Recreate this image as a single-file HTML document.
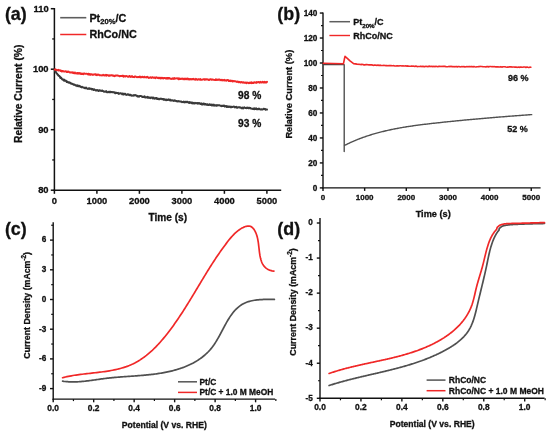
<!DOCTYPE html>
<html><head><meta charset="utf-8"><style>
html,body{margin:0;padding:0;background:#fff;}
svg{display:block;font-family:"Liberation Sans", Arial, sans-serif;font-weight:bold;fill:#111;}
text{stroke:#111;stroke-width:0.3px;}
</style></head><body>
<svg style="filter:blur(0.4px)" width="550" height="431" viewBox="0 0 550 431">
<rect width="550" height="431" fill="#fff"/>
<line x1="54.40" y1="8.00" x2="54.40" y2="190.90" stroke="#111" stroke-width="1.5"/>
<line x1="53.70" y1="190.20" x2="281.20" y2="190.20" stroke="#111" stroke-width="1.5"/>
<line x1="50.80" y1="8.70" x2="54.40" y2="8.70" stroke="#111" stroke-width="1.5"/>
<text x="48.60" y="11.50" font-size="9.4" text-anchor="end" >110</text>
<line x1="50.80" y1="69.20" x2="54.40" y2="69.20" stroke="#111" stroke-width="1.5"/>
<text x="48.60" y="72.00" font-size="9.4" text-anchor="end" >100</text>
<line x1="50.80" y1="129.70" x2="54.40" y2="129.70" stroke="#111" stroke-width="1.5"/>
<text x="48.60" y="132.50" font-size="9.4" text-anchor="end" >90</text>
<line x1="50.80" y1="190.20" x2="54.40" y2="190.20" stroke="#111" stroke-width="1.5"/>
<text x="48.60" y="193.00" font-size="9.4" text-anchor="end" >80</text>
<line x1="52.20" y1="38.95" x2="54.40" y2="38.95" stroke="#111" stroke-width="1.3"/>
<line x1="52.20" y1="99.45" x2="54.40" y2="99.45" stroke="#111" stroke-width="1.3"/>
<line x1="52.20" y1="159.95" x2="54.40" y2="159.95" stroke="#111" stroke-width="1.3"/>
<line x1="54.40" y1="190.20" x2="54.40" y2="193.80" stroke="#111" stroke-width="1.5"/>
<text x="54.40" y="204.00" font-size="9.4" text-anchor="middle" >0</text>
<line x1="96.90" y1="190.20" x2="96.90" y2="193.80" stroke="#111" stroke-width="1.5"/>
<text x="96.90" y="204.00" font-size="9.4" text-anchor="middle" >1000</text>
<line x1="139.40" y1="190.20" x2="139.40" y2="193.80" stroke="#111" stroke-width="1.5"/>
<text x="139.40" y="204.00" font-size="9.4" text-anchor="middle" >2000</text>
<line x1="181.90" y1="190.20" x2="181.90" y2="193.80" stroke="#111" stroke-width="1.5"/>
<text x="181.90" y="204.00" font-size="9.4" text-anchor="middle" >3000</text>
<line x1="224.40" y1="190.20" x2="224.40" y2="193.80" stroke="#111" stroke-width="1.5"/>
<text x="224.40" y="204.00" font-size="9.4" text-anchor="middle" >4000</text>
<line x1="266.90" y1="190.20" x2="266.90" y2="193.80" stroke="#111" stroke-width="1.5"/>
<text x="266.90" y="204.00" font-size="9.4" text-anchor="middle" >5000</text>
<text x="167.80" y="221.20" font-size="10.1" text-anchor="middle" >Time (s)</text>
<text x="0.00" y="0.00" font-size="10.3" text-anchor="middle" transform="translate(21.7,93.8) rotate(-90)">Relative Current (%)</text>
<line x1="60.20" y1="17.70" x2="86.30" y2="17.70" stroke="#5e5e5e" stroke-width="1.6"/>
<line x1="60.20" y1="34.50" x2="86.30" y2="34.50" stroke="#f02828" stroke-width="1.5"/>
<text x="89.4" y="21.5" font-size="10.8">Pt<tspan font-size="7.6" dy="2.6">20%</tspan><tspan dy="-2.6">/C</tspan></text>
<text x="89.40" y="37.80" font-size="10.8" text-anchor="start" >RhCo/NC</text>
<text x="238.00" y="98.60" font-size="10.2" text-anchor="start" >98 %</text>
<text x="238.00" y="127.20" font-size="10.2" text-anchor="start" >93 %</text>
<text x="4.90" y="20.40" font-size="17.9" text-anchor="start" >(a)</text>
<path d="M54.59,69.61 L55.04,70.35 L55.49,71.73 L55.94,71.86 L56.39,73.06 L56.84,73.52 L57.29,73.78 L57.74,74.83 L58.19,74.83 L58.64,75.76 L59.09,75.82 L59.54,76.28 L59.99,77.07 L60.44,77.90 L60.89,77.51 L61.34,77.98 L61.79,78.76 L62.24,79.44 L62.69,79.35 L63.14,79.46 L63.59,80.38 L64.04,79.64 L64.49,80.80 L64.94,80.44 L65.39,80.53 L65.84,80.74 L66.29,81.18 L66.74,81.97 L67.19,81.49 L67.64,82.15 L68.09,82.42 L68.54,82.33 L68.99,82.72 L69.44,82.38 L69.89,82.56 L70.34,82.90 L70.79,83.60 L71.24,83.50 L71.69,83.55 L72.14,84.02 L72.59,84.04 L73.04,84.03 L73.49,84.73 L73.94,84.79 L74.39,84.44 L74.84,84.96 L75.29,85.05 L75.74,85.59 L76.19,85.57 L76.64,85.23 L77.09,86.13 L77.54,85.32 L77.99,85.79 L78.44,86.30 L78.89,85.77 L79.34,86.27 L79.79,85.90 L80.24,86.72 L80.69,86.95 L81.14,86.87 L81.59,87.32 L82.04,86.82 L82.49,87.36 L82.94,87.37 L83.39,87.47 L83.84,87.44 L84.29,87.98 L84.74,88.20 L85.19,87.79 L85.64,88.11 L86.09,87.55 L86.54,88.36 L86.99,88.40 L87.44,88.89 L87.89,88.80 L88.34,88.30 L88.79,88.51 L89.24,88.92 L89.69,88.30 L90.14,88.88 L90.59,88.65 L91.04,88.68 L91.49,88.71 L91.94,89.58 L92.39,88.96 L92.84,89.18 L93.29,89.42 L93.74,90.04 L94.19,89.25 L94.64,89.74 L95.09,89.93 L95.54,90.38 L95.99,90.39 L96.44,90.51 L96.89,89.95 L97.34,90.17 L97.79,90.19 L98.24,90.84 L98.69,91.00 L99.14,90.18 L99.59,90.29 L100.04,90.42 L100.49,90.49 L100.94,90.84 L101.39,91.02 L101.84,90.74 L102.29,90.52 L102.74,91.05 L103.19,91.06 L103.64,91.34 L104.09,91.84 L104.54,91.61 L104.99,91.49 L105.44,91.67 L105.89,91.79 L106.34,91.18 L106.79,92.17 L107.24,92.10 L107.69,92.27 L108.14,92.25 L108.59,91.87 L109.04,91.94 L109.49,91.68 L109.94,92.32 L110.39,91.75 L110.84,91.82 L111.29,92.04 L111.74,92.05 L112.19,92.31 L112.64,92.05 L113.09,92.06 L113.54,92.29 L113.99,92.29 L114.44,92.64 L114.89,92.33 L115.34,93.33 L115.79,93.10 L116.24,92.65 L116.69,92.83 L117.14,92.99 L117.59,93.07 L118.04,92.87 L118.49,93.73 L118.94,93.95 L119.39,93.43 L119.84,93.51 L120.29,93.13 L120.74,93.21 L121.19,93.54 L121.64,93.52 L122.09,94.20 L122.54,93.52 L122.99,93.43 L123.44,94.52 L123.89,94.11 L124.34,93.75 L124.79,94.25 L125.24,93.74 L125.69,94.36 L126.14,94.91 L126.59,94.85 L127.04,94.72 L127.49,94.31 L127.94,94.48 L128.39,94.33 L128.84,95.05 L129.29,94.85 L129.74,95.18 L130.19,94.75 L130.64,94.69 L131.09,95.40 L131.54,95.65 L131.99,95.57 L132.44,95.58 L132.89,95.65 L133.34,95.63 L133.79,95.12 L134.24,95.50 L134.69,95.39 L135.14,95.09 L135.59,95.15 L136.04,95.48 L136.49,95.52 L136.94,96.06 L137.39,96.41 L137.84,95.91 L138.29,96.51 L138.74,96.63 L139.19,96.65 L139.64,96.06 L140.09,95.96 L140.54,96.03 L140.99,96.06 L141.44,96.13 L141.89,96.65 L142.34,97.01 L142.79,97.01 L143.24,96.67 L143.69,96.92 L144.14,97.14 L144.59,96.41 L145.04,97.11 L145.49,97.44 L145.94,97.36 L146.39,97.38 L146.84,97.14 L147.29,96.87 L147.74,97.61 L148.19,97.16 L148.64,97.74 L149.09,97.99 L149.54,97.41 L149.99,97.48 L150.44,98.14 L150.89,97.95 L151.34,97.40 L151.79,97.41 L152.24,97.50 L152.69,98.39 L153.14,98.34 L153.59,97.67 L154.04,98.48 L154.49,98.70 L154.94,98.41 L155.39,98.13 L155.84,98.40 L156.29,98.00 L156.74,97.93 L157.19,99.04 L157.64,98.75 L158.09,98.67 L158.54,99.18 L158.99,98.69 L159.44,99.23 L159.89,99.23 L160.34,98.62 L160.79,98.72 L161.24,98.82 L161.69,98.82 L162.14,99.26 L162.59,98.96 L163.04,99.19 L163.49,98.93 L163.94,99.85 L164.39,99.29 L164.84,99.46 L165.29,99.66 L165.74,100.07 L166.19,99.59 L166.64,100.20 L167.09,99.80 L167.54,99.89 L167.99,99.93 L168.44,99.43 L168.89,99.95 L169.34,99.73 L169.79,99.59 L170.24,100.52 L170.69,99.89 L171.14,100.27 L171.59,100.61 L172.04,100.48 L172.49,100.28 L172.94,100.55 L173.39,100.64 L173.84,100.95 L174.29,100.26 L174.74,100.82 L175.19,100.53 L175.64,100.61 L176.09,101.21 L176.54,100.98 L176.99,101.09 L177.44,101.37 L177.89,101.59 L178.34,101.13 L178.79,101.37 L179.24,101.31 L179.69,101.37 L180.14,101.62 L180.59,101.41 L181.04,101.55 L181.49,101.55 L181.94,102.11 L182.39,101.90 L182.84,102.15 L183.29,102.27 L183.74,101.58 L184.19,101.96 L184.64,102.43 L185.09,102.37 L185.54,101.65 L185.99,101.69 L186.44,102.10 L186.89,101.74 L187.34,101.98 L187.79,101.85 L188.24,102.56 L188.69,102.74 L189.14,102.91 L189.59,102.15 L190.04,102.82 L190.49,102.81 L190.94,102.29 L191.39,103.16 L191.84,103.30 L192.29,102.53 L192.74,103.39 L193.19,102.83 L193.64,102.98 L194.09,103.59 L194.54,103.46 L194.99,102.78 L195.44,103.12 L195.89,103.27 L196.34,103.12 L196.79,103.02 L197.24,103.20 L197.69,103.70 L198.14,102.97 L198.59,103.61 L199.04,103.54 L199.49,103.12 L199.94,103.52 L200.39,103.89 L200.84,103.82 L201.29,103.37 L201.74,104.43 L202.19,104.27 L202.64,104.52 L203.09,103.61 L203.54,103.84 L203.99,103.64 L204.44,104.50 L204.89,103.99 L205.34,103.88 L205.79,104.25 L206.24,104.84 L206.69,104.79 L207.14,104.22 L207.59,104.14 L208.04,105.04 L208.49,104.70 L208.94,104.89 L209.39,104.27 L209.84,104.28 L210.29,105.02 L210.74,104.78 L211.19,104.44 L211.64,105.43 L212.09,105.15 L212.54,105.38 L212.99,104.63 L213.44,105.53 L213.89,104.71 L214.34,105.63 L214.79,105.22 L215.24,105.14 L215.69,105.42 L216.14,105.88 L216.59,105.20 L217.04,105.09 L217.49,105.57 L217.94,105.30 L218.39,105.20 L218.84,105.30 L219.29,105.23 L219.74,105.44 L220.19,105.60 L220.64,105.64 L221.09,106.18 L221.54,105.71 L221.99,105.98 L222.44,105.67 L222.89,105.90 L223.34,105.58 L223.79,105.88 L224.24,105.66 L224.69,106.50 L225.14,106.34 L225.59,105.98 L226.04,106.34 L226.49,106.88 L226.94,106.02 L227.39,106.84 L227.84,106.46 L228.29,106.57 L228.74,106.98 L229.19,106.54 L229.64,106.70 L230.09,106.94 L230.54,107.31 L230.99,106.64 L231.44,107.22 L231.89,107.12 L232.34,107.08 L232.79,106.87 L233.24,106.85 L233.69,106.56 L234.14,106.68 L234.59,106.66 L235.04,107.43 L235.49,106.94 L235.94,106.88 L236.39,106.83 L236.84,107.70 L237.29,107.77 L237.74,107.59 L238.19,107.20 L238.64,107.19 L239.09,107.28 L239.54,107.50 L239.99,107.21 L240.44,107.56 L240.89,107.40 L241.34,108.20 L241.79,108.25 L242.24,107.82 L242.69,107.52 L243.14,108.35 L243.59,107.66 L244.04,107.75 L244.49,107.40 L244.94,107.85 L245.39,107.99 L245.84,108.05 L246.29,107.75 L246.74,108.12 L247.19,107.61 L247.64,107.93 L248.09,107.77 L248.54,108.14 L248.99,107.78 L249.44,107.79 L249.89,108.14 L250.34,108.09 L250.79,108.51 L251.24,108.48 L251.69,108.76 L252.14,108.69 L252.59,108.78 L253.04,109.00 L253.49,108.49 L253.94,108.45 L254.39,109.21 L254.84,108.32 L255.29,108.98 L255.74,108.92 L256.19,108.29 L256.64,109.20 L257.09,109.29 L257.54,109.03 L257.99,109.17 L258.44,109.29 L258.89,108.58 L259.34,109.03 L259.79,109.04 L260.24,109.43 L260.69,109.43 L261.14,109.48 L261.59,109.24 L262.04,109.61 L262.49,109.41 L262.94,109.44 L263.39,108.96 L263.84,108.77 L264.29,108.91 L264.74,109.19 L265.19,108.93 L265.64,109.76 L266.09,109.48 L266.54,109.59 L266.99,109.61" fill="none" stroke="#3a3a3a" stroke-width="2.0" stroke-linejoin="round" stroke-linecap="round" />
<path d="M54.60,69.68 L55.05,69.59 L55.50,69.20 L55.95,70.09 L56.40,70.14 L56.85,69.99 L57.30,70.12 L57.75,70.33 L58.20,69.83 L58.65,70.59 L59.10,70.20 L59.55,70.11 L60.00,70.39 L60.45,70.94 L60.90,70.50 L61.35,71.11 L61.80,71.43 L62.25,71.03 L62.70,71.00 L63.15,71.17 L63.60,71.46 L64.05,71.62 L64.50,71.54 L64.95,71.64 L65.40,71.15 L65.85,71.29 L66.30,71.47 L66.75,72.03 L67.20,71.66 L67.65,71.99 L68.10,71.50 L68.55,71.62 L69.00,71.89 L69.45,72.36 L69.90,72.44 L70.35,72.49 L70.80,72.17 L71.25,72.45 L71.70,72.46 L72.15,72.52 L72.60,72.23 L73.05,73.06 L73.50,72.43 L73.95,73.26 L74.40,73.27 L74.85,72.41 L75.30,72.90 L75.75,73.32 L76.20,73.52 L76.65,73.05 L77.10,72.92 L77.55,72.91 L78.00,73.69 L78.45,73.01 L78.90,73.42 L79.35,73.03 L79.80,73.46 L80.25,73.93 L80.70,73.16 L81.15,73.89 L81.60,73.62 L82.05,74.04 L82.50,73.90 L82.95,73.47 L83.40,74.17 L83.85,73.80 L84.30,73.38 L84.75,73.40 L85.20,73.92 L85.65,73.92 L86.10,73.81 L86.55,73.69 L87.00,73.92 L87.45,73.93 L87.90,74.49 L88.35,73.69 L88.80,74.47 L89.25,74.59 L89.70,73.91 L90.15,74.75 L90.60,74.56 L91.05,74.79 L91.50,74.20 L91.95,74.32 L92.40,74.37 L92.85,75.01 L93.30,74.63 L93.75,74.43 L94.20,74.52 L94.65,74.40 L95.10,74.20 L95.55,74.28 L96.00,75.04 L96.45,74.52 L96.90,75.20 L97.35,74.54 L97.80,74.58 L98.25,74.85 L98.70,74.56 L99.15,74.77 L99.60,75.38 L100.05,75.33 L100.50,75.28 L100.95,75.13 L101.40,75.43 L101.85,75.49 L102.30,75.12 L102.75,75.31 L103.20,74.67 L103.65,75.38 L104.10,75.12 L104.55,75.44 L105.00,75.36 L105.45,75.02 L105.90,74.81 L106.35,75.71 L106.80,74.93 L107.25,75.30 L107.70,75.20 L108.15,75.17 L108.60,75.64 L109.05,75.90 L109.50,75.21 L109.95,75.63 L110.40,75.29 L110.85,75.57 L111.30,75.43 L111.75,75.23 L112.20,75.25 L112.65,75.32 L113.10,76.04 L113.55,75.65 L114.00,75.40 L114.45,76.11 L114.90,76.22 L115.35,75.70 L115.80,75.41 L116.25,75.49 L116.70,75.41 L117.15,75.68 L117.60,75.45 L118.05,75.62 L118.50,75.67 L118.95,76.00 L119.40,76.34 L119.85,76.23 L120.30,75.91 L120.75,75.94 L121.20,76.07 L121.65,75.95 L122.10,75.93 L122.55,75.68 L123.00,75.92 L123.45,76.63 L123.90,75.81 L124.35,76.21 L124.80,76.36 L125.25,76.62 L125.70,76.00 L126.15,76.07 L126.60,76.07 L127.05,76.25 L127.50,76.32 L127.95,76.85 L128.40,76.77 L128.85,76.81 L129.30,75.99 L129.75,76.02 L130.20,76.72 L130.65,76.93 L131.10,76.53 L131.55,76.67 L132.00,76.10 L132.45,76.52 L132.90,77.07 L133.35,77.00 L133.80,77.05 L134.25,77.19 L134.70,76.49 L135.15,76.37 L135.60,76.44 L136.05,76.83 L136.50,77.01 L136.95,77.29 L137.40,77.10 L137.85,77.05 L138.30,77.19 L138.75,76.90 L139.20,77.02 L139.65,76.53 L140.10,77.29 L140.55,76.77 L141.00,77.47 L141.45,77.22 L141.90,76.90 L142.35,76.75 L142.80,76.90 L143.25,77.30 L143.70,77.39 L144.15,76.82 L144.60,76.80 L145.05,77.28 L145.50,77.36 L145.95,77.19 L146.40,77.04 L146.85,77.44 L147.30,76.87 L147.75,77.19 L148.20,77.37 L148.65,77.89 L149.10,77.60 L149.55,77.86 L150.00,77.47 L150.45,77.25 L150.90,77.28 L151.35,78.02 L151.80,77.78 L152.25,77.41 L152.70,77.14 L153.15,77.64 L153.60,77.84 L154.05,77.60 L154.50,77.46 L154.95,77.89 L155.40,78.17 L155.85,77.50 L156.30,77.32 L156.75,77.65 L157.20,77.75 L157.65,78.03 L158.10,77.57 L158.55,78.19 L159.00,78.15 L159.45,77.94 L159.90,77.66 L160.35,78.44 L160.80,77.80 L161.25,78.33 L161.70,77.76 L162.15,77.77 L162.60,78.33 L163.05,77.89 L163.50,78.56 L163.95,78.13 L164.40,77.84 L164.85,77.89 L165.30,78.11 L165.75,78.37 L166.20,78.68 L166.65,77.89 L167.10,78.16 L167.55,78.00 L168.00,78.78 L168.45,77.96 L168.90,77.89 L169.35,77.92 L169.80,78.27 L170.25,78.80 L170.70,78.80 L171.15,78.67 L171.60,78.95 L172.05,78.90 L172.50,78.32 L172.95,78.19 L173.40,78.96 L173.85,78.79 L174.30,78.09 L174.75,78.74 L175.20,78.47 L175.65,78.49 L176.10,78.46 L176.55,78.32 L177.00,78.17 L177.45,78.46 L177.90,78.55 L178.35,79.17 L178.80,78.35 L179.25,79.21 L179.70,78.47 L180.15,78.64 L180.60,79.12 L181.05,79.13 L181.50,78.76 L181.95,78.39 L182.40,78.83 L182.85,78.75 L183.30,79.31 L183.75,78.60 L184.20,78.79 L184.65,79.34 L185.10,78.48 L185.55,78.88 L186.00,79.30 L186.45,79.27 L186.90,78.55 L187.35,78.56 L187.80,78.61 L188.25,79.48 L188.70,78.83 L189.15,79.33 L189.60,79.50 L190.05,78.95 L190.50,78.90 L190.95,79.60 L191.40,79.27 L191.85,78.93 L192.30,79.40 L192.75,79.01 L193.20,78.98 L193.65,78.73 L194.10,79.49 L194.55,79.66 L195.00,79.39 L195.45,79.72 L195.90,78.81 L196.35,79.03 L196.80,79.28 L197.25,79.78 L197.70,79.79 L198.15,79.23 L198.60,79.11 L199.05,79.30 L199.50,79.37 L199.95,79.82 L200.40,79.08 L200.85,79.71 L201.30,79.66 L201.75,79.76 L202.20,79.72 L202.65,79.56 L203.10,79.29 L203.55,79.29 L204.00,79.35 L204.45,79.78 L204.90,79.08 L205.35,79.21 L205.80,79.78 L206.25,79.28 L206.70,79.11 L207.15,79.08 L207.60,79.61 L208.05,79.39 L208.50,80.06 L208.95,79.97 L209.40,80.08 L209.85,79.37 L210.30,79.19 L210.75,79.21 L211.20,79.62 L211.65,79.84 L212.10,79.59 L212.55,79.38 L213.00,79.57 L213.45,79.79 L213.90,79.85 L214.35,79.93 L214.80,80.04 L215.25,79.87 L215.70,79.34 L216.15,80.07 L216.60,79.53 L217.05,79.82 L217.50,79.64 L217.95,80.02 L218.40,79.49 L218.85,79.56 L219.30,79.57 L219.75,79.50 L220.20,80.25 L220.65,79.96 L221.10,79.73 L221.55,79.82 L222.00,80.45 L222.45,79.99 L222.90,79.74 L223.35,80.34 L223.80,80.22 L224.25,80.59 L224.70,79.73 L225.15,80.14 L225.60,80.52 L226.05,80.58 L226.50,80.70 L226.95,79.87 L227.40,80.17 L227.85,80.04 L228.30,80.16 L228.75,81.00 L229.20,80.66 L229.65,81.07 L230.10,80.57 L230.55,81.13 L231.00,80.77 L231.45,80.65 L231.90,81.24 L232.35,81.48 L232.80,80.71 L233.25,81.28 L233.70,81.38 L234.15,81.06 L234.60,81.28 L235.05,81.14 L235.50,81.28 L235.95,81.40 L236.40,81.83 L236.85,81.95 L237.30,81.58 L237.75,81.46 L238.20,81.84 L238.65,82.26 L239.10,81.83 L239.55,82.02 L240.00,81.97 L240.45,82.62 L240.90,82.42 L241.35,81.99 L241.80,82.08 L242.25,82.41 L242.70,82.61 L243.15,82.74 L243.60,82.23 L244.05,82.33 L244.50,82.89 L244.95,82.63 L245.40,82.53 L245.85,82.58 L246.30,83.24 L246.75,82.61 L247.20,82.88 L247.65,82.68 L248.10,82.74 L248.55,83.19 L249.00,83.32 L249.45,82.69 L249.90,82.51 L250.35,83.04 L250.80,82.50 L251.25,82.29 L251.70,83.16 L252.15,82.66 L252.60,83.04 L253.05,82.60 L253.50,83.05 L253.95,82.60 L254.40,82.28 L254.85,82.10 L255.30,82.61 L255.75,82.66 L256.20,82.90 L256.65,82.05 L257.10,82.55 L257.55,82.27 L258.00,82.37 L258.45,81.98 L258.90,82.09 L259.35,82.30 L259.80,82.68 L260.25,81.84 L260.70,82.20 L261.15,82.49 L261.60,82.63 L262.05,81.85 L262.50,81.76 L262.95,82.57 L263.40,82.59 L263.85,82.09 L264.30,81.66 L264.75,82.53 L265.20,82.00 L265.65,82.53 L266.10,82.26 L266.55,82.48 L267.00,81.84" fill="none" stroke="#f02828" stroke-width="1.9" stroke-linejoin="round" stroke-linecap="round" />
<line x1="323.00" y1="12.40" x2="323.00" y2="188.50" stroke="#111" stroke-width="1.4"/>
<line x1="322.40" y1="187.90" x2="540.60" y2="187.90" stroke="#111" stroke-width="1.4"/>
<line x1="319.80" y1="187.90" x2="323.00" y2="187.90" stroke="#111" stroke-width="1.4"/>
<text x="317.40" y="190.90" font-size="8.2" text-anchor="end" >0</text>
<line x1="319.80" y1="162.92" x2="323.00" y2="162.92" stroke="#111" stroke-width="1.4"/>
<text x="317.40" y="165.92" font-size="8.2" text-anchor="end" >20</text>
<line x1="319.80" y1="137.94" x2="323.00" y2="137.94" stroke="#111" stroke-width="1.4"/>
<text x="317.40" y="140.94" font-size="8.2" text-anchor="end" >40</text>
<line x1="319.80" y1="112.96" x2="323.00" y2="112.96" stroke="#111" stroke-width="1.4"/>
<text x="317.40" y="115.96" font-size="8.2" text-anchor="end" >60</text>
<line x1="319.80" y1="87.98" x2="323.00" y2="87.98" stroke="#111" stroke-width="1.4"/>
<text x="317.40" y="90.98" font-size="8.2" text-anchor="end" >80</text>
<line x1="319.80" y1="63.00" x2="323.00" y2="63.00" stroke="#111" stroke-width="1.4"/>
<text x="317.40" y="66.00" font-size="8.2" text-anchor="end" >100</text>
<line x1="319.80" y1="38.02" x2="323.00" y2="38.02" stroke="#111" stroke-width="1.4"/>
<text x="317.40" y="41.02" font-size="8.2" text-anchor="end" >120</text>
<line x1="319.80" y1="13.04" x2="323.00" y2="13.04" stroke="#111" stroke-width="1.4"/>
<text x="317.40" y="16.04" font-size="8.2" text-anchor="end" >140</text>
<line x1="321.00" y1="175.41" x2="323.00" y2="175.41" stroke="#111" stroke-width="1.2"/>
<line x1="321.00" y1="150.43" x2="323.00" y2="150.43" stroke="#111" stroke-width="1.2"/>
<line x1="321.00" y1="125.45" x2="323.00" y2="125.45" stroke="#111" stroke-width="1.2"/>
<line x1="321.00" y1="100.47" x2="323.00" y2="100.47" stroke="#111" stroke-width="1.2"/>
<line x1="321.00" y1="75.49" x2="323.00" y2="75.49" stroke="#111" stroke-width="1.2"/>
<line x1="321.00" y1="50.51" x2="323.00" y2="50.51" stroke="#111" stroke-width="1.2"/>
<line x1="321.00" y1="25.53" x2="323.00" y2="25.53" stroke="#111" stroke-width="1.2"/>
<line x1="323.00" y1="187.90" x2="323.00" y2="190.90" stroke="#111" stroke-width="1.4"/>
<text x="323.00" y="200.10" font-size="8.0" text-anchor="middle" >0</text>
<line x1="364.65" y1="187.90" x2="364.65" y2="190.90" stroke="#111" stroke-width="1.4"/>
<text x="364.65" y="200.10" font-size="8.0" text-anchor="middle" >1000</text>
<line x1="406.30" y1="187.90" x2="406.30" y2="190.90" stroke="#111" stroke-width="1.4"/>
<text x="406.30" y="200.10" font-size="8.0" text-anchor="middle" >2000</text>
<line x1="447.95" y1="187.90" x2="447.95" y2="190.90" stroke="#111" stroke-width="1.4"/>
<text x="447.95" y="200.10" font-size="8.0" text-anchor="middle" >3000</text>
<line x1="489.60" y1="187.90" x2="489.60" y2="190.90" stroke="#111" stroke-width="1.4"/>
<text x="489.60" y="200.10" font-size="8.0" text-anchor="middle" >4000</text>
<line x1="531.25" y1="187.90" x2="531.25" y2="190.90" stroke="#111" stroke-width="1.4"/>
<text x="531.25" y="200.10" font-size="8.0" text-anchor="middle" >5000</text>
<text x="433.20" y="216.60" font-size="9.2" text-anchor="middle" >Time (s)</text>
<text x="0.00" y="0.00" font-size="9.3" text-anchor="middle" transform="translate(291.9,94.2) rotate(-90)">Relative Current (%)</text>
<line x1="329.40" y1="21.70" x2="350.00" y2="21.70" stroke="#5e5e5e" stroke-width="1.5"/>
<line x1="329.40" y1="35.50" x2="350.00" y2="35.50" stroke="#f02828" stroke-width="1.4"/>
<text x="353.2" y="25.4" font-size="9">Pt<tspan font-size="6.2" dy="2.2">20%</tspan><tspan dy="-2.2">/C</tspan></text>
<text x="353.20" y="38.60" font-size="9" text-anchor="start" >RhCo/NC</text>
<text x="508.00" y="80.70" font-size="9.0" text-anchor="start" >96 %</text>
<text x="507.30" y="132.10" font-size="9.0" text-anchor="start" >52 %</text>
<text x="277.30" y="20.30" font-size="17.9" text-anchor="start" >(b)</text>
<path d="M323.20,64.50 L344.20,64.70 L344.20,151.60" fill="none" stroke="#444" stroke-width="1.3" stroke-linejoin="round" stroke-linecap="round" />
<path d="M344.60,145.39 L345.46,144.96 L346.32,144.53 L347.18,144.10 L348.05,143.68 L348.92,143.27 L349.79,142.87 L350.66,142.47 L351.53,142.07 L352.41,141.68 L353.29,141.30 L354.17,140.92 L355.05,140.55 L355.93,140.18 L356.81,139.82 L357.70,139.47 L358.59,139.12 L359.48,138.77 L360.37,138.43 L361.26,138.10 L362.16,137.77 L363.05,137.44 L363.95,137.12 L364.85,136.81 L365.75,136.49 L366.65,136.19 L367.56,135.89 L368.46,135.59 L369.37,135.30 L370.28,135.01 L371.19,134.73 L372.10,134.45 L373.01,134.18 L373.92,133.91 L374.84,133.65 L375.75,133.39 L376.67,133.13 L377.59,132.88 L378.51,132.63 L379.43,132.39 L380.35,132.15 L381.28,131.91 L382.20,131.68 L383.13,131.45 L384.06,131.22 L384.98,131.00 L385.91,130.79 L386.84,130.57 L387.78,130.36 L388.71,130.15 L389.64,129.95 L390.58,129.75 L391.51,129.55 L392.45,129.36 L393.38,129.17 L394.32,128.98 L395.26,128.80 L396.20,128.62 L397.14,128.44 L398.08,128.26 L399.02,128.09 L399.97,127.92 L400.91,127.75 L401.86,127.59 L402.80,127.43 L403.75,127.27 L404.69,127.11 L405.64,126.96 L406.59,126.80 L407.54,126.66 L408.49,126.51 L409.43,126.36 L410.38,126.22 L411.34,126.08 L412.29,125.94 L413.24,125.80 L414.19,125.67 L415.14,125.54 L416.10,125.41 L417.05,125.28 L418.00,125.15 L418.96,125.03 L419.91,124.90 L420.86,124.78 L421.82,124.66 L422.77,124.54 L423.73,124.42 L424.69,124.30 L425.64,124.19 L426.60,124.07 L427.55,123.96 L428.51,123.85 L429.47,123.74 L430.42,123.63 L431.38,123.52 L432.34,123.41 L433.29,123.31 L434.25,123.20 L435.21,123.09 L436.16,122.99 L437.12,122.88 L438.08,122.78 L439.03,122.68 L439.99,122.58 L440.95,122.47 L441.90,122.37 L442.86,122.27 L443.82,122.17 L444.77,122.07 L445.73,121.97 L446.68,121.87 L447.64,121.77 L448.60,121.67 L449.55,121.58 L450.51,121.48 L451.46,121.38 L452.42,121.29 L453.37,121.19 L454.33,121.09 L455.28,121.00 L456.24,120.91 L457.20,120.81 L458.15,120.72 L459.11,120.62 L460.06,120.53 L461.02,120.44 L461.97,120.35 L462.93,120.26 L463.88,120.16 L464.84,120.07 L465.79,119.98 L466.75,119.89 L467.70,119.81 L468.66,119.72 L469.61,119.63 L470.57,119.54 L471.52,119.45 L472.48,119.36 L473.43,119.28 L474.39,119.19 L475.34,119.10 L476.29,119.02 L477.25,118.93 L478.20,118.85 L479.16,118.76 L480.11,118.68 L481.07,118.60 L482.02,118.51 L482.98,118.43 L483.93,118.35 L484.89,118.26 L485.84,118.18 L486.80,118.10 L487.75,118.02 L488.71,117.94 L489.66,117.86 L490.61,117.78 L491.57,117.70 L492.52,117.62 L493.48,117.54 L494.43,117.46 L495.39,117.38 L496.34,117.30 L497.30,117.22 L498.25,117.15 L499.21,117.07 L500.16,116.99 L501.12,116.91 L502.07,116.84 L503.03,116.76 L503.98,116.69 L504.94,116.61 L505.89,116.53 L506.85,116.46 L507.80,116.39 L508.76,116.31 L509.71,116.24 L510.67,116.16 L511.62,116.09 L512.58,116.02 L513.53,115.94 L514.49,115.87 L515.45,115.80 L516.40,115.72 L517.36,115.65 L518.31,115.58 L519.27,115.51 L520.22,115.44 L521.18,115.37 L522.14,115.29 L523.09,115.22 L524.05,115.15 L525.00,115.08 L525.96,115.01 L526.92,114.94 L527.87,114.87 L528.83,114.80 L529.79,114.74 L530.74,114.67 L531.70,114.60" fill="none" stroke="#505050" stroke-width="1.4" stroke-linejoin="round" stroke-linecap="round" />
<path d="M323.20,63.20 L343.50,63.70 L344.40,59.00 L345.00,56.30 L347.30,58.30 L350.00,60.90 L353.60,63.60 L357.00,64.10 L360.90,64.50 L360.90,64.68 L361.90,64.39 L362.90,64.55 L363.90,64.87 L364.90,64.91 L365.90,64.57 L366.90,64.64 L367.90,64.79 L368.90,64.91 L369.90,64.87 L370.90,64.76 L371.90,64.88 L372.90,65.21 L373.90,65.36 L374.90,64.88 L375.90,65.24 L376.90,65.39 L377.90,65.00 L378.90,65.52 L379.90,65.12 L380.90,65.45 L381.90,65.45 L382.90,65.54 L383.90,65.38 L384.90,65.48 L385.90,65.61 L386.90,65.55 L387.90,65.72 L388.90,65.62 L389.90,65.65 L390.90,65.43 L391.90,65.81 L392.90,65.76 L393.90,65.64 L394.90,65.98 L395.90,66.02 L396.90,65.85 L397.90,65.71 L398.90,65.91 L399.90,65.71 L400.90,65.75 L401.90,65.95 L402.90,65.77 L403.90,66.00 L404.90,66.06 L405.90,65.80 L406.90,66.18 L407.90,65.87 L408.90,66.28 L409.90,66.32 L410.90,66.18 L411.90,65.92 L412.90,66.21 L413.90,66.15 L414.90,66.51 L415.90,66.04 L416.90,66.48 L417.90,66.58 L418.90,66.44 L419.90,66.50 L420.90,66.14 L421.90,66.63 L422.90,66.35 L423.90,66.64 L424.90,66.62 L425.90,66.18 L426.90,66.57 L427.90,66.67 L428.90,66.16 L429.90,66.34 L430.90,66.59 L431.90,66.24 L432.90,66.69 L433.90,66.33 L434.90,66.66 L435.90,66.27 L436.90,66.49 L437.90,66.75 L438.90,66.33 L439.90,66.37 L440.90,66.52 L441.90,66.42 L442.90,66.26 L443.90,66.35 L444.90,66.34 L445.90,66.82 L446.90,66.67 L447.90,66.80 L448.90,66.37 L449.90,66.75 L450.90,66.35 L451.90,66.61 L452.90,66.67 L453.90,66.51 L454.90,66.83 L455.90,66.64 L456.90,66.66 L457.90,66.85 L458.90,66.38 L459.90,66.92 L460.90,66.71 L461.90,66.57 L462.90,66.82 L463.90,66.50 L464.90,66.94 L465.90,66.70 L466.90,66.57 L467.90,66.82 L468.90,66.63 L469.90,66.48 L470.90,66.82 L471.90,66.41 L472.90,66.88 L473.90,66.54 L474.90,66.78 L475.90,66.99 L476.90,66.76 L477.90,66.81 L478.90,66.60 L479.90,66.42 L480.90,66.45 L481.90,66.52 L482.90,66.81 L483.90,66.70 L484.90,66.76 L485.90,67.00 L486.90,66.54 L487.90,66.61 L488.90,66.87 L489.90,66.50 L490.90,66.49 L491.90,66.71 L492.90,66.57 L493.90,66.73 L494.90,66.66 L495.90,66.88 L496.90,66.90 L497.90,66.68 L498.90,66.94 L499.90,66.86 L500.90,66.66 L501.90,67.15 L502.90,66.75 L503.90,66.70 L504.90,66.68 L505.90,67.02 L506.90,67.17 L507.90,67.13 L508.90,66.92 L509.90,66.85 L510.90,66.71 L511.90,67.10 L512.90,67.07 L513.90,66.96 L514.90,67.15 L515.90,67.05 L516.90,67.36 L517.90,67.25 L518.90,66.98 L519.90,67.39 L520.90,66.89 L521.90,67.20 L522.90,67.15 L523.90,67.07 L524.90,66.98 L525.90,67.43 L526.90,66.99 L527.90,67.34 L528.90,67.60 L529.90,67.14 L530.90,67.20" fill="none" stroke="#f02828" stroke-width="1.6" stroke-linejoin="round" stroke-linecap="round" />
<line x1="53.20" y1="222.30" x2="53.20" y2="399.70" stroke="#111" stroke-width="1.4"/>
<line x1="52.60" y1="399.10" x2="275.10" y2="399.10" stroke="#111" stroke-width="1.4"/>
<line x1="50.00" y1="240.10" x2="53.20" y2="240.10" stroke="#111" stroke-width="1.4"/>
<text x="46.40" y="242.40" font-size="8.2" text-anchor="end" >6</text>
<line x1="50.00" y1="269.80" x2="53.20" y2="269.80" stroke="#111" stroke-width="1.4"/>
<text x="46.40" y="272.10" font-size="8.2" text-anchor="end" >3</text>
<line x1="50.00" y1="299.50" x2="53.20" y2="299.50" stroke="#111" stroke-width="1.4"/>
<text x="46.40" y="301.80" font-size="8.2" text-anchor="end" >0</text>
<line x1="50.00" y1="329.20" x2="53.20" y2="329.20" stroke="#111" stroke-width="1.4"/>
<text x="46.40" y="331.50" font-size="8.2" text-anchor="end" >-3</text>
<line x1="50.00" y1="358.90" x2="53.20" y2="358.90" stroke="#111" stroke-width="1.4"/>
<text x="46.40" y="361.20" font-size="8.2" text-anchor="end" >-6</text>
<line x1="50.00" y1="388.60" x2="53.20" y2="388.60" stroke="#111" stroke-width="1.4"/>
<text x="46.40" y="390.90" font-size="8.2" text-anchor="end" >-9</text>
<line x1="51.20" y1="225.25" x2="53.20" y2="225.25" stroke="#111" stroke-width="1.2"/>
<line x1="51.20" y1="254.95" x2="53.20" y2="254.95" stroke="#111" stroke-width="1.2"/>
<line x1="51.20" y1="284.65" x2="53.20" y2="284.65" stroke="#111" stroke-width="1.2"/>
<line x1="51.20" y1="314.35" x2="53.20" y2="314.35" stroke="#111" stroke-width="1.2"/>
<line x1="51.20" y1="344.05" x2="53.20" y2="344.05" stroke="#111" stroke-width="1.2"/>
<line x1="51.20" y1="373.75" x2="53.20" y2="373.75" stroke="#111" stroke-width="1.2"/>
<line x1="53.20" y1="399.10" x2="53.20" y2="402.30" stroke="#111" stroke-width="1.4"/>
<text x="53.20" y="410.90" font-size="8.4" text-anchor="middle" >0.0</text>
<line x1="93.68" y1="399.10" x2="93.68" y2="402.30" stroke="#111" stroke-width="1.4"/>
<text x="93.68" y="410.90" font-size="8.4" text-anchor="middle" >0.2</text>
<line x1="134.16" y1="399.10" x2="134.16" y2="402.30" stroke="#111" stroke-width="1.4"/>
<text x="134.16" y="410.90" font-size="8.4" text-anchor="middle" >0.4</text>
<line x1="174.64" y1="399.10" x2="174.64" y2="402.30" stroke="#111" stroke-width="1.4"/>
<text x="174.64" y="410.90" font-size="8.4" text-anchor="middle" >0.6</text>
<line x1="215.12" y1="399.10" x2="215.12" y2="402.30" stroke="#111" stroke-width="1.4"/>
<text x="215.12" y="410.90" font-size="8.4" text-anchor="middle" >0.8</text>
<line x1="255.60" y1="399.10" x2="255.60" y2="402.30" stroke="#111" stroke-width="1.4"/>
<text x="255.60" y="410.90" font-size="8.4" text-anchor="middle" >1.0</text>
<line x1="73.44" y1="399.10" x2="73.44" y2="401.10" stroke="#111" stroke-width="1.2"/>
<line x1="113.92" y1="399.10" x2="113.92" y2="401.10" stroke="#111" stroke-width="1.2"/>
<line x1="154.40" y1="399.10" x2="154.40" y2="401.10" stroke="#111" stroke-width="1.2"/>
<line x1="194.88" y1="399.10" x2="194.88" y2="401.10" stroke="#111" stroke-width="1.2"/>
<line x1="235.36" y1="399.10" x2="235.36" y2="401.10" stroke="#111" stroke-width="1.2"/>
<line x1="275.84" y1="399.10" x2="275.84" y2="401.10" stroke="#111" stroke-width="1.2"/>
<text x="164.30" y="427.60" font-size="8.6" text-anchor="middle" >Potential (V vs. RHE)</text>
<text font-size="8.8" text-anchor="middle" transform="translate(30.2,305.4) rotate(-90)">Current Density (mAcm<tspan font-size="6.3" dy="-4.4">-2</tspan><tspan dy="4.4">)</tspan></text>
<line x1="178.00" y1="381.80" x2="197.00" y2="381.80" stroke="#5e5e5e" stroke-width="1.6"/>
<line x1="178.00" y1="392.40" x2="197.00" y2="392.40" stroke="#f02828" stroke-width="1.5"/>
<text x="199.50" y="384.80" font-size="8.4" text-anchor="start" >Pt/C</text>
<text x="199.50" y="395.30" font-size="8.4" text-anchor="start" >Pt/C + 1.0 M MeOH</text>
<text x="4.90" y="235.20" font-size="17.9" text-anchor="start" >(c)</text>
<path d="M62.60,381.20 L63.84,381.37 L65.08,381.51 L66.32,381.63 L67.55,381.72 L68.78,381.80 L70.01,381.85 L71.23,381.89 L72.45,381.91 L73.67,381.90 L74.88,381.88 L76.09,381.85 L77.30,381.80 L78.51,381.73 L79.72,381.66 L80.92,381.57 L82.13,381.46 L83.33,381.35 L84.53,381.23 L85.73,381.10 L86.93,380.96 L88.13,380.81 L89.33,380.66 L90.53,380.50 L91.73,380.33 L92.92,380.16 L94.12,379.99 L95.32,379.82 L96.52,379.65 L97.72,379.48 L98.93,379.30 L100.13,379.13 L101.33,378.96 L102.54,378.80 L103.75,378.64 L104.96,378.48 L106.17,378.33 L107.38,378.19 L108.60,378.05 L109.82,377.92 L111.04,377.80 L112.26,377.68 L113.48,377.56 L114.71,377.45 L115.93,377.34 L117.16,377.24 L118.39,377.14 L119.62,377.04 L120.85,376.95 L122.08,376.85 L123.32,376.76 L124.55,376.67 L125.78,376.59 L127.02,376.50 L128.26,376.41 L129.49,376.33 L130.73,376.24 L131.96,376.16 L133.20,376.07 L134.44,375.98 L135.68,375.89 L136.91,375.80 L138.15,375.71 L139.38,375.61 L140.62,375.51 L141.86,375.41 L143.09,375.30 L144.32,375.20 L145.56,375.08 L146.79,374.96 L148.02,374.84 L149.25,374.71 L150.48,374.58 L151.71,374.44 L152.93,374.29 L154.16,374.14 L155.38,373.98 L156.60,373.81 L157.82,373.64 L159.04,373.45 L160.25,373.26 L161.47,373.06 L162.68,372.85 L163.89,372.64 L165.10,372.41 L166.30,372.17 L167.50,371.92 L168.70,371.66 L169.90,371.39 L171.09,371.11 L172.28,370.82 L173.47,370.51 L174.65,370.19 L175.83,369.86 L177.01,369.52 L178.18,369.16 L179.34,368.79 L180.50,368.41 L181.65,368.01 L182.79,367.60 L183.93,367.18 L185.06,366.74 L186.18,366.28 L187.30,365.81 L188.40,365.33 L189.50,364.83 L190.58,364.31 L191.66,363.78 L192.73,363.23 L193.78,362.66 L194.83,362.08 L195.86,361.48 L196.88,360.86 L197.89,360.23 L198.88,359.58 L199.86,358.91 L200.83,358.22 L201.79,357.51 L202.73,356.78 L203.66,356.03 L204.57,355.27 L205.46,354.48 L206.34,353.68 L207.20,352.85 L208.05,352.01 L208.88,351.14 L209.69,350.25 L210.48,349.34 L211.26,348.41 L212.01,347.46 L212.75,346.48 L213.47,345.49 L214.18,344.48 L214.86,343.45 L215.54,342.40 L216.20,341.34 L216.85,340.27 L217.49,339.18 L218.12,338.09 L218.74,336.98 L219.36,335.87 L219.96,334.75 L220.57,333.63 L221.16,332.51 L221.76,331.38 L222.35,330.25 L222.95,329.12 L223.54,327.99 L224.14,326.87 L224.74,325.75 L225.34,324.64 L225.95,323.54 L226.56,322.44 L227.18,321.36 L227.81,320.29 L228.45,319.23 L229.10,318.18 L229.76,317.15 L230.44,316.14 L231.12,315.15 L231.83,314.18 L232.55,313.23 L233.28,312.30 L234.04,311.39 L234.81,310.52 L235.61,309.66 L236.43,308.84 L237.27,308.05 L238.13,307.29 L239.02,306.56 L239.94,305.86 L240.88,305.20 L241.86,304.58 L242.86,303.99 L243.89,303.45 L244.96,302.94 L246.06,302.48 L247.18,302.05 L248.34,301.67 L249.53,301.33 L250.73,301.02 L251.96,300.74 L253.21,300.50 L254.47,300.28 L255.74,300.10 L257.02,299.94 L258.31,299.80 L259.60,299.69 L260.90,299.60 L262.19,299.53 L263.47,299.47 L264.75,299.43 L266.02,299.40 L267.28,299.38 L268.52,299.37 L269.75,299.37 L270.95,299.38 L272.13,299.39 L273.28,299.40 L274.40,299.41" fill="none" stroke="#505050" stroke-width="1.7" stroke-linejoin="round" stroke-linecap="round" />
<path d="M62.60,377.70 L64.03,377.33 L65.47,376.99 L66.92,376.66 L68.39,376.35 L69.88,376.06 L71.38,375.79 L72.89,375.53 L74.42,375.28 L75.96,375.05 L77.50,374.83 L79.06,374.62 L80.63,374.41 L82.20,374.22 L83.78,374.03 L85.37,373.84 L86.96,373.66 L88.56,373.49 L90.17,373.31 L91.77,373.13 L93.38,372.95 L94.99,372.77 L96.60,372.58 L98.22,372.39 L99.83,372.20 L101.43,371.99 L103.04,371.78 L104.65,371.55 L106.24,371.32 L107.84,371.07 L109.43,370.80 L111.01,370.53 L112.59,370.23 L114.15,369.92 L115.71,369.59 L117.26,369.23 L118.80,368.86 L120.33,368.46 L121.84,368.04 L123.35,367.59 L124.83,367.12 L126.31,366.62 L127.77,366.09 L129.21,365.53 L130.64,364.93 L132.04,364.31 L133.43,363.65 L134.80,362.96 L136.16,362.23 L137.49,361.48 L138.81,360.69 L140.12,359.88 L141.40,359.03 L142.67,358.16 L143.93,357.27 L145.16,356.34 L146.39,355.40 L147.59,354.43 L148.79,353.43 L149.96,352.42 L151.13,351.38 L152.28,350.33 L153.41,349.25 L154.53,348.16 L155.64,347.05 L156.74,345.92 L157.82,344.78 L158.89,343.62 L159.95,342.45 L161.00,341.27 L162.03,340.07 L163.06,338.87 L164.07,337.65 L165.07,336.43 L166.06,335.20 L167.05,333.96 L168.02,332.71 L168.98,331.46 L169.93,330.20 L170.88,328.94 L171.81,327.67 L172.74,326.40 L173.66,325.13 L174.57,323.85 L175.47,322.57 L176.37,321.28 L177.26,319.99 L178.14,318.69 L179.02,317.39 L179.89,316.09 L180.75,314.79 L181.61,313.48 L182.46,312.17 L183.31,310.86 L184.15,309.54 L184.99,308.22 L185.82,306.90 L186.65,305.57 L187.48,304.25 L188.30,302.92 L189.12,301.59 L189.94,300.26 L190.75,298.93 L191.56,297.59 L192.37,296.26 L193.18,294.92 L193.99,293.58 L194.79,292.24 L195.60,290.90 L196.40,289.56 L197.20,288.22 L198.01,286.88 L198.81,285.54 L199.62,284.20 L200.42,282.86 L201.23,281.52 L202.03,280.18 L202.84,278.84 L203.65,277.50 L204.47,276.16 L205.28,274.82 L206.10,273.48 L206.92,272.15 L207.75,270.82 L208.58,269.48 L209.41,268.15 L210.25,266.82 L211.09,265.50 L211.93,264.17 L212.78,262.85 L213.64,261.53 L214.50,260.21 L215.37,258.90 L216.24,257.58 L217.12,256.27 L218.01,254.97 L218.90,253.66 L219.80,252.36 L220.71,251.07 L221.63,249.77 L222.55,248.48 L223.49,247.20 L224.43,245.92 L225.38,244.64 L226.34,243.37 L227.31,242.10 L228.29,240.84 L229.28,239.59 L230.29,238.36 L231.32,237.15 L232.38,235.97 L233.46,234.82 L234.57,233.71 L235.71,232.64 L236.89,231.62 L238.10,230.65 L239.35,229.74 L240.65,228.88 L241.99,228.10 L243.39,227.39 L244.82,226.77 L246.26,226.30 L247.68,226.03 L249.05,226.00 L250.33,226.27 L251.51,226.87 L252.58,227.74 L253.55,228.82 L254.41,230.05 L255.17,231.39 L255.83,232.80 L256.40,234.26 L256.89,235.77 L257.32,237.34 L257.68,238.93 L257.99,240.56 L258.25,242.22 L258.49,243.89 L258.69,245.57 L258.89,247.26 L259.08,248.94 L259.27,250.62 L259.47,252.28 L259.70,253.91 L259.96,255.51 L260.26,257.08 L260.61,258.60 L261.02,260.07 L261.49,261.48 L262.05,262.83 L262.69,264.10 L263.43,265.30 L264.27,266.41 L265.23,267.42 L266.31,268.34 L267.52,269.15 L268.88,269.85 L270.39,270.43 L272.06,270.89 L273.90,271.20" fill="none" stroke="#f02828" stroke-width="1.7" stroke-linejoin="round" stroke-linecap="round" />
<line x1="320.00" y1="218.10" x2="320.00" y2="398.90" stroke="#111" stroke-width="1.4"/>
<line x1="319.40" y1="398.30" x2="544.60" y2="398.30" stroke="#111" stroke-width="1.4"/>
<line x1="316.80" y1="223.00" x2="320.00" y2="223.00" stroke="#111" stroke-width="1.4"/>
<text x="312.80" y="225.30" font-size="8.2" text-anchor="end" >0</text>
<line x1="316.80" y1="258.06" x2="320.00" y2="258.06" stroke="#111" stroke-width="1.4"/>
<text x="312.80" y="260.36" font-size="8.2" text-anchor="end" >-1</text>
<line x1="316.80" y1="293.12" x2="320.00" y2="293.12" stroke="#111" stroke-width="1.4"/>
<text x="312.80" y="295.42" font-size="8.2" text-anchor="end" >-2</text>
<line x1="316.80" y1="328.18" x2="320.00" y2="328.18" stroke="#111" stroke-width="1.4"/>
<text x="312.80" y="330.48" font-size="8.2" text-anchor="end" >-3</text>
<line x1="316.80" y1="363.24" x2="320.00" y2="363.24" stroke="#111" stroke-width="1.4"/>
<text x="312.80" y="365.54" font-size="8.2" text-anchor="end" >-4</text>
<line x1="316.80" y1="398.30" x2="320.00" y2="398.30" stroke="#111" stroke-width="1.4"/>
<text x="312.80" y="400.60" font-size="8.2" text-anchor="end" >-5</text>
<line x1="318.00" y1="240.53" x2="320.00" y2="240.53" stroke="#111" stroke-width="1.2"/>
<line x1="318.00" y1="275.59" x2="320.00" y2="275.59" stroke="#111" stroke-width="1.2"/>
<line x1="318.00" y1="310.65" x2="320.00" y2="310.65" stroke="#111" stroke-width="1.2"/>
<line x1="318.00" y1="345.71" x2="320.00" y2="345.71" stroke="#111" stroke-width="1.2"/>
<line x1="318.00" y1="380.77" x2="320.00" y2="380.77" stroke="#111" stroke-width="1.2"/>
<line x1="320.00" y1="398.30" x2="320.00" y2="401.50" stroke="#111" stroke-width="1.4"/>
<text x="320.00" y="410.00" font-size="8.4" text-anchor="middle" >0.0</text>
<line x1="360.94" y1="398.30" x2="360.94" y2="401.50" stroke="#111" stroke-width="1.4"/>
<text x="360.94" y="410.00" font-size="8.4" text-anchor="middle" >0.2</text>
<line x1="401.88" y1="398.30" x2="401.88" y2="401.50" stroke="#111" stroke-width="1.4"/>
<text x="401.88" y="410.00" font-size="8.4" text-anchor="middle" >0.4</text>
<line x1="442.82" y1="398.30" x2="442.82" y2="401.50" stroke="#111" stroke-width="1.4"/>
<text x="442.82" y="410.00" font-size="8.4" text-anchor="middle" >0.6</text>
<line x1="483.76" y1="398.30" x2="483.76" y2="401.50" stroke="#111" stroke-width="1.4"/>
<text x="483.76" y="410.00" font-size="8.4" text-anchor="middle" >0.8</text>
<line x1="524.70" y1="398.30" x2="524.70" y2="401.50" stroke="#111" stroke-width="1.4"/>
<text x="524.70" y="410.00" font-size="8.4" text-anchor="middle" >1.0</text>
<line x1="340.47" y1="398.30" x2="340.47" y2="400.30" stroke="#111" stroke-width="1.2"/>
<line x1="381.41" y1="398.30" x2="381.41" y2="400.30" stroke="#111" stroke-width="1.2"/>
<line x1="422.35" y1="398.30" x2="422.35" y2="400.30" stroke="#111" stroke-width="1.2"/>
<line x1="463.29" y1="398.30" x2="463.29" y2="400.30" stroke="#111" stroke-width="1.2"/>
<line x1="504.23" y1="398.30" x2="504.23" y2="400.30" stroke="#111" stroke-width="1.2"/>
<line x1="545.17" y1="398.30" x2="545.17" y2="400.30" stroke="#111" stroke-width="1.2"/>
<text x="432.20" y="427.20" font-size="8.6" text-anchor="middle" >Potential (V vs. RHE)</text>
<text font-size="8.85" text-anchor="middle" transform="translate(296.0,302.0) rotate(-90)">Current Density (mAcm<tspan font-size="6.3" dy="-4.4">-2</tspan><tspan dy="4.4">)</tspan></text>
<line x1="426.60" y1="380.10" x2="445.50" y2="380.10" stroke="#5e5e5e" stroke-width="1.6"/>
<line x1="426.60" y1="390.70" x2="445.50" y2="390.70" stroke="#f02828" stroke-width="1.5"/>
<text x="448.80" y="383.20" font-size="8.5" text-anchor="start" >RhCo/NC</text>
<text x="448.80" y="393.80" font-size="8.5" text-anchor="start" >RhCo/NC + 1.0 M MeOH</text>
<text x="277.30" y="235.20" font-size="17.9" text-anchor="start" >(d)</text>
<path d="M329.10,385.51 L329.83,385.27 L330.57,385.03 L331.30,384.80 L332.04,384.57 L332.77,384.34 L333.51,384.12 L334.25,383.90 L334.98,383.67 L335.72,383.45 L336.46,383.24 L337.20,383.02 L337.94,382.81 L338.68,382.59 L339.42,382.38 L340.16,382.17 L340.90,381.97 L341.64,381.76 L342.38,381.56 L343.12,381.36 L343.86,381.15 L344.61,380.96 L345.35,380.76 L346.09,380.56 L346.83,380.37 L347.58,380.17 L348.32,379.98 L349.06,379.79 L349.81,379.60 L350.55,379.41 L351.30,379.22 L352.04,379.03 L352.79,378.85 L353.53,378.66 L354.28,378.48 L355.02,378.30 L355.77,378.12 L356.52,377.93 L357.26,377.75 L358.01,377.58 L358.75,377.40 L359.50,377.22 L360.25,377.04 L360.99,376.86 L361.74,376.69 L362.49,376.51 L363.23,376.34 L363.98,376.16 L364.73,375.99 L365.47,375.81 L366.22,375.64 L366.97,375.47 L367.72,375.29 L368.46,375.12 L369.21,374.95 L369.96,374.78 L370.70,374.60 L371.45,374.43 L372.20,374.26 L372.94,374.09 L373.69,373.92 L374.44,373.74 L375.18,373.57 L375.93,373.40 L376.68,373.23 L377.42,373.05 L378.17,372.88 L378.91,372.71 L379.66,372.53 L380.40,372.36 L381.15,372.18 L381.89,372.01 L382.64,371.83 L383.38,371.66 L384.13,371.48 L384.87,371.30 L385.62,371.12 L386.36,370.94 L387.10,370.76 L387.85,370.58 L388.59,370.40 L389.33,370.22 L390.07,370.04 L390.81,369.85 L391.56,369.67 L392.30,369.48 L393.04,369.29 L393.78,369.11 L394.52,368.92 L395.26,368.73 L396.00,368.53 L396.73,368.34 L397.47,368.15 L398.21,367.95 L398.95,367.75 L399.69,367.55 L400.42,367.35 L401.16,367.15 L401.89,366.95 L402.63,366.75 L403.36,366.54 L404.10,366.33 L404.83,366.12 L405.56,365.91 L406.30,365.70 L407.03,365.48 L407.76,365.27 L408.49,365.05 L409.22,364.83 L409.95,364.60 L410.68,364.38 L411.41,364.15 L412.13,363.92 L412.86,363.69 L413.59,363.46 L414.31,363.23 L415.04,362.99 L415.76,362.75 L416.49,362.51 L417.21,362.26 L417.93,362.02 L418.65,361.77 L419.37,361.52 L420.09,361.26 L420.81,361.00 L421.53,360.75 L422.25,360.48 L422.97,360.22 L423.68,359.95 L424.40,359.68 L425.11,359.41 L425.83,359.13 L426.54,358.85 L427.25,358.57 L427.96,358.29 L428.67,358.00 L429.38,357.71 L430.09,357.42 L430.80,357.12 L431.50,356.82 L432.21,356.52 L432.91,356.21 L433.62,355.90 L434.32,355.59 L435.02,355.27 L435.72,354.96 L436.42,354.63 L437.12,354.31 L437.82,353.98 L438.52,353.64 L439.21,353.31 L439.91,352.97 L440.60,352.62 L441.29,352.27 L441.99,351.92 L442.68,351.57 L443.37,351.21 L444.05,350.85 L444.74,350.48 L445.43,350.11 L446.11,349.73 L446.79,349.35 L447.47,348.97 L448.15,348.58 L448.82,348.19 L449.49,347.79 L450.16,347.39 L450.82,346.98 L451.48,346.57 L452.13,346.15 L452.79,345.73 L453.43,345.30 L454.07,344.87 L454.71,344.43 L455.34,343.98 L455.96,343.53 L456.58,343.08 L457.19,342.61 L457.80,342.14 L458.40,341.67 L458.99,341.19 L459.57,340.70 L460.15,340.21 L460.72,339.70 L461.28,339.20 L461.83,338.68 L462.37,338.16 L462.90,337.63 L463.43,337.09 L463.95,336.55 L464.45,336.00 L464.95,335.44 L465.43,334.87 L465.91,334.30 L466.37,333.71 L466.83,333.12 L467.27,332.53 L467.70,331.92 L468.12,331.30 L468.52,330.68 L468.92,330.05 L469.30,329.41 L469.67,328.76 L470.03,328.10 L470.37,327.44 L470.71,326.76 L471.04,326.08 L471.35,325.40 L471.66,324.71 L471.95,324.01 L472.24,323.30 L472.52,322.59 L472.79,321.88 L473.05,321.16 L473.30,320.43 L473.55,319.70 L473.79,318.97 L474.02,318.23 L474.24,317.49 L474.46,316.74 L474.68,316.00 L474.89,315.24 L475.09,314.49 L475.29,313.74 L475.49,312.98 L475.68,312.22 L475.87,311.46 L476.06,310.70 L476.24,309.94 L476.42,309.18 L476.60,308.42 L476.78,307.66 L476.96,306.90 L477.13,306.14 L477.31,305.38 L477.48,304.62 L477.66,303.87 L477.83,303.11 L478.01,302.36 L478.19,301.61 L478.36,300.86 L478.54,300.12 L478.72,299.37 L478.90,298.63 L479.07,297.89 L479.25,297.14 L479.43,296.40 L479.61,295.66 L479.79,294.93 L479.97,294.19 L480.14,293.45 L480.32,292.72 L480.50,291.98 L480.68,291.25 L480.86,290.51 L481.04,289.78 L481.22,289.05 L481.39,288.31 L481.57,287.58 L481.75,286.85 L481.93,286.12 L482.11,285.38 L482.28,284.65 L482.46,283.92 L482.64,283.19 L482.81,282.45 L482.99,281.72 L483.16,280.99 L483.34,280.25 L483.51,279.51 L483.69,278.78 L483.86,278.04 L484.03,277.30 L484.21,276.56 L484.38,275.82 L484.55,275.08 L484.72,274.34 L484.89,273.60 L485.06,272.85 L485.23,272.10 L485.39,271.36 L485.56,270.61 L485.73,269.86 L485.89,269.10 L486.05,268.35 L486.22,267.59 L486.38,266.83 L486.54,266.07 L486.70,265.31 L486.86,264.54 L487.02,263.77 L487.17,263.00 L487.33,262.23 L487.49,261.46 L487.65,260.69 L487.81,259.91 L487.97,259.14 L488.13,258.36 L488.29,257.59 L488.45,256.81 L488.62,256.04 L488.79,255.27 L488.96,254.49 L489.14,253.72 L489.31,252.95 L489.50,252.18 L489.68,251.42 L489.87,250.65 L490.07,249.89 L490.27,249.13 L490.47,248.38 L490.68,247.62 L490.89,246.87 L491.12,246.13 L491.34,245.39 L491.58,244.65 L491.82,243.91 L492.07,243.19 L492.32,242.46 L492.58,241.74 L492.85,241.03 L493.13,240.32 L493.42,239.62 L493.72,238.92 L494.02,238.23 L494.34,237.55 L494.66,236.87 L495.00,236.21 L495.34,235.54 L495.70,234.89 L496.07,234.24 L496.45,233.61 L496.84,232.98 L497.24,232.37 L497.66,231.78 L498.09,231.19 L498.54,230.63 L499.00,230.08 L499.22,228.67 L499.47,228.41 L499.73,228.16 L499.99,227.92 L500.25,227.68 L500.50,227.45 L500.76,227.24 L501.02,227.03 L501.28,226.84 L501.53,226.66 L501.79,226.49 L502.05,226.34 L502.31,226.21 L502.56,226.09 L502.82,225.99 L503.08,225.91 L503.33,225.84 L503.59,225.77 L503.85,225.71 L504.11,225.65 L504.36,225.59 L504.62,225.53 L504.88,225.48 L505.14,225.43 L505.39,225.38 L505.65,225.33 L505.91,225.28 L506.16,225.24 L506.42,225.19 L506.68,225.15 L506.94,225.11 L507.19,225.07 L507.45,225.04 L507.71,225.00 L507.97,224.97 L508.22,224.94 L508.48,224.91 L508.74,224.88 L508.99,224.85 L509.25,224.82 L509.51,224.79 L509.77,224.77 L510.02,224.75 L510.28,224.72 L510.54,224.70 L510.80,224.68 L511.05,224.66 L511.31,224.64 L511.57,224.62 L511.82,224.60 L512.08,224.58 L512.34,224.56 L512.60,224.54 L512.85,224.53 L513.11,224.51 L513.37,224.50 L513.63,224.48 L513.88,224.47 L514.14,224.45 L514.40,224.44 L514.65,224.43 L514.91,224.41 L515.17,224.40 L515.43,224.39 L515.68,224.38 L515.94,224.37 L516.20,224.35 L516.46,224.34 L516.71,224.33 L516.97,224.32 L517.23,224.31 L517.48,224.30 L517.74,224.29 L518.00,224.28 L518.26,224.27 L518.51,224.26 L518.77,224.25 L519.03,224.24 L519.29,224.23 L519.54,224.22 L519.80,224.21 L520.06,224.20 L520.32,224.19 L520.57,224.18 L520.83,224.17 L521.09,224.16 L521.34,224.14 L521.60,224.13 L521.86,224.12 L522.12,224.11 L522.37,224.10 L522.63,224.09 L522.89,224.08 L523.15,224.07 L523.40,224.06 L523.66,224.05 L523.92,224.04 L524.17,224.04 L524.43,224.03 L524.69,224.02 L524.95,224.01 L525.20,224.00 L525.46,223.99 L525.72,223.98 L525.98,223.97 L526.23,223.96 L526.49,223.95 L526.75,223.95 L527.00,223.94 L527.26,223.93 L527.52,223.92 L527.78,223.91 L528.03,223.91 L528.29,223.90 L528.55,223.89 L528.81,223.88 L529.06,223.87 L529.32,223.87 L529.58,223.86 L529.83,223.85 L530.09,223.85 L530.35,223.84 L530.61,223.83 L530.86,223.83 L531.12,223.82 L531.38,223.81 L531.64,223.81 L531.89,223.80 L532.15,223.79 L532.41,223.79 L532.66,223.78 L532.92,223.77 L533.18,223.77 L533.44,223.76 L533.69,223.76 L533.95,223.75 L534.21,223.74 L534.47,223.74 L534.72,223.73 L534.98,223.72 L535.24,223.72 L535.49,223.71 L535.75,223.71 L536.01,223.70 L536.27,223.69 L536.52,223.69 L536.78,223.68 L537.04,223.67 L537.30,223.67 L537.55,223.66 L537.81,223.66 L538.07,223.65 L538.33,223.64 L538.58,223.64 L538.84,223.63 L539.10,223.63 L539.35,223.62 L539.61,223.61 L539.87,223.61 L540.13,223.60 L540.38,223.59 L540.64,223.59 L540.90,223.58 L541.16,223.58 L541.41,223.57 L541.67,223.56 L541.93,223.56 L542.18,223.55 L542.44,223.55 L542.70,223.54 L542.96,223.53 L543.21,223.53 L543.47,223.52 L543.73,223.52 L543.99,223.51 L544.24,223.51 L544.50,223.50" fill="none" stroke="#505050" stroke-width="1.7" stroke-linejoin="round" stroke-linecap="round" />
<path d="M329.10,373.50 L329.80,373.26 L330.50,373.02 L331.20,372.78 L331.90,372.55 L332.61,372.31 L333.31,372.09 L334.01,371.86 L334.72,371.63 L335.42,371.41 L336.13,371.19 L336.84,370.98 L337.54,370.76 L338.25,370.55 L338.96,370.34 L339.67,370.13 L340.38,369.93 L341.09,369.73 L341.80,369.53 L342.51,369.33 L343.23,369.13 L343.94,368.94 L344.65,368.74 L345.37,368.55 L346.08,368.36 L346.80,368.18 L347.51,367.99 L348.23,367.81 L348.95,367.63 L349.66,367.45 L350.38,367.27 L351.10,367.09 L351.82,366.91 L352.54,366.74 L353.25,366.57 L353.97,366.39 L354.69,366.22 L355.41,366.05 L356.13,365.89 L356.86,365.72 L357.58,365.55 L358.30,365.39 L359.02,365.22 L359.74,365.06 L360.46,364.90 L361.19,364.74 L361.91,364.58 L362.63,364.42 L363.35,364.26 L364.08,364.10 L364.80,363.94 L365.52,363.78 L366.25,363.63 L366.97,363.47 L367.69,363.31 L368.42,363.16 L369.14,363.00 L369.86,362.85 L370.59,362.69 L371.31,362.54 L372.04,362.38 L372.76,362.23 L373.48,362.07 L374.21,361.92 L374.93,361.76 L375.65,361.61 L376.38,361.45 L377.10,361.29 L377.82,361.14 L378.55,360.98 L379.27,360.82 L379.99,360.67 L380.72,360.51 L381.44,360.35 L382.16,360.19 L382.88,360.03 L383.61,359.87 L384.33,359.71 L385.05,359.55 L385.77,359.39 L386.49,359.22 L387.21,359.06 L387.93,358.90 L388.65,358.73 L389.37,358.56 L390.09,358.39 L390.81,358.22 L391.53,358.05 L392.25,357.88 L392.96,357.71 L393.68,357.53 L394.40,357.36 L395.11,357.18 L395.83,357.00 L396.55,356.82 L397.26,356.64 L397.98,356.45 L398.69,356.27 L399.40,356.08 L400.12,355.89 L400.83,355.70 L401.54,355.51 L402.25,355.31 L402.96,355.11 L403.67,354.91 L404.38,354.71 L405.09,354.51 L405.80,354.30 L406.50,354.10 L407.21,353.89 L407.92,353.67 L408.62,353.46 L409.33,353.24 L410.03,353.02 L410.73,352.80 L411.43,352.58 L412.14,352.35 L412.84,352.12 L413.54,351.89 L414.23,351.65 L414.93,351.41 L415.63,351.17 L416.33,350.93 L417.02,350.68 L417.72,350.43 L418.41,350.18 L419.10,349.92 L419.79,349.66 L420.48,349.40 L421.17,349.13 L421.86,348.86 L422.55,348.59 L423.24,348.31 L423.92,348.03 L424.61,347.75 L425.29,347.46 L425.97,347.17 L426.65,346.88 L427.33,346.58 L428.01,346.28 L428.69,345.98 L429.37,345.67 L430.04,345.36 L430.72,345.04 L431.39,344.72 L432.06,344.39 L432.73,344.07 L433.40,343.73 L434.07,343.40 L434.73,343.06 L435.39,342.71 L436.05,342.36 L436.71,342.01 L437.37,341.65 L438.02,341.29 L438.67,340.93 L439.32,340.56 L439.97,340.19 L440.61,339.81 L441.25,339.43 L441.89,339.04 L442.52,338.65 L443.15,338.25 L443.78,337.86 L444.41,337.45 L445.03,337.04 L445.65,336.63 L446.26,336.21 L446.87,335.79 L447.48,335.37 L448.08,334.94 L448.68,334.50 L449.27,334.06 L449.86,333.62 L450.45,333.17 L451.03,332.72 L451.61,332.26 L452.18,331.80 L452.75,331.33 L453.31,330.86 L453.87,330.39 L454.42,329.90 L454.97,329.42 L455.51,328.93 L456.05,328.43 L456.58,327.93 L457.11,327.43 L457.63,326.92 L458.14,326.40 L458.65,325.88 L459.16,325.36 L459.65,324.83 L460.15,324.30 L460.63,323.76 L461.11,323.21 L461.58,322.66 L462.05,322.11 L462.51,321.55 L462.96,320.98 L463.41,320.42 L463.85,319.84 L464.28,319.26 L464.71,318.68 L465.12,318.09 L465.54,317.49 L465.94,316.89 L466.34,316.28 L466.72,315.67 L467.11,315.05 L467.48,314.43 L467.84,313.81 L468.20,313.17 L468.55,312.53 L468.89,311.89 L469.23,311.24 L469.55,310.59 L469.87,309.93 L470.18,309.26 L470.48,308.59 L470.77,307.91 L471.05,307.23 L471.32,306.54 L471.58,305.85 L471.84,305.15 L472.09,304.45 L472.32,303.74 L472.55,303.02 L472.77,302.30 L472.98,301.58 L473.19,300.85 L473.39,300.12 L473.58,299.39 L473.77,298.65 L473.96,297.91 L474.14,297.17 L474.31,296.43 L474.49,295.69 L474.66,294.95 L474.83,294.21 L475.00,293.47 L475.16,292.73 L475.33,291.99 L475.50,291.25 L475.67,290.52 L475.84,289.79 L476.01,289.06 L476.19,288.34 L476.37,287.62 L476.55,286.91 L476.74,286.19 L476.92,285.49 L477.12,284.78 L477.31,284.08 L477.50,283.38 L477.70,282.68 L477.90,281.99 L478.10,281.30 L478.30,280.61 L478.50,279.92 L478.71,279.23 L478.91,278.54 L479.12,277.85 L479.32,277.17 L479.53,276.48 L479.74,275.79 L479.95,275.10 L480.15,274.42 L480.36,273.73 L480.57,273.04 L480.78,272.34 L480.98,271.65 L481.19,270.96 L481.39,270.26 L481.59,269.56 L481.79,268.85 L481.99,268.15 L482.19,267.44 L482.39,266.73 L482.58,266.01 L482.78,265.29 L482.97,264.56 L483.15,263.83 L483.34,263.10 L483.52,262.36 L483.70,261.62 L483.89,260.88 L484.07,260.13 L484.24,259.38 L484.42,258.63 L484.60,257.88 L484.78,257.13 L484.96,256.37 L485.15,255.62 L485.33,254.86 L485.52,254.11 L485.70,253.35 L485.89,252.60 L486.08,251.85 L486.28,251.09 L486.48,250.35 L486.68,249.60 L486.89,248.85 L487.10,248.11 L487.31,247.37 L487.53,246.64 L487.76,245.91 L487.99,245.18 L488.23,244.46 L488.47,243.74 L488.72,243.03 L488.98,242.32 L489.25,241.63 L489.52,240.93 L489.80,240.25 L490.09,239.57 L490.38,238.89 L490.69,238.23 L491.00,237.57 L491.33,236.93 L491.66,236.29 L492.01,235.66 L492.36,235.04 L492.73,234.43 L493.11,233.83 L493.49,233.24 L493.89,232.66 L494.31,232.10 L494.73,231.55 L495.17,231.00 L495.61,230.48 L496.07,229.96 L496.55,229.46 L497.22,227.35 L497.50,227.08 L497.77,226.82 L498.05,226.58 L498.32,226.34 L498.60,226.12 L498.87,225.90 L499.15,225.71 L499.42,225.52 L499.70,225.35 L499.97,225.20 L500.25,225.06 L500.52,224.94 L500.79,224.84 L501.07,224.75 L501.34,224.66 L501.62,224.58 L501.89,224.50 L502.17,224.42 L502.44,224.35 L502.72,224.28 L502.99,224.22 L503.27,224.16 L503.54,224.10 L503.82,224.04 L504.09,223.99 L504.37,223.94 L504.64,223.90 L504.92,223.86 L505.19,223.82 L505.47,223.79 L505.74,223.76 L506.02,223.73 L506.29,223.71 L506.57,223.69 L506.84,223.67 L507.12,223.65 L507.39,223.64 L507.67,223.62 L507.94,223.61 L508.22,223.59 L508.49,223.58 L508.77,223.57 L509.04,223.56 L509.32,223.55 L509.59,223.54 L509.87,223.52 L510.14,223.51 L510.42,223.51 L510.69,223.50 L510.97,223.49 L511.24,223.48 L511.52,223.47 L511.79,223.46 L512.06,223.45 L512.34,223.45 L512.61,223.44 L512.89,223.43 L513.16,223.42 L513.44,223.42 L513.71,223.41 L513.99,223.40 L514.26,223.39 L514.54,223.38 L514.81,223.38 L515.09,223.37 L515.36,223.36 L515.64,223.36 L515.91,223.35 L516.19,223.34 L516.46,223.34 L516.74,223.33 L517.01,223.32 L517.29,223.32 L517.56,223.31 L517.84,223.31 L518.11,223.30 L518.39,223.30 L518.66,223.29 L518.94,223.28 L519.21,223.28 L519.49,223.27 L519.76,223.27 L520.04,223.26 L520.31,223.26 L520.59,223.25 L520.86,223.24 L521.14,223.24 L521.41,223.23 L521.69,223.22 L521.96,223.22 L522.24,223.21 L522.51,223.20 L522.78,223.20 L523.06,223.19 L523.33,223.18 L523.61,223.18 L523.88,223.17 L524.16,223.16 L524.43,223.15 L524.71,223.15 L524.98,223.14 L525.26,223.13 L525.53,223.12 L525.81,223.11 L526.08,223.11 L526.36,223.10 L526.63,223.09 L526.91,223.08 L527.18,223.07 L527.46,223.06 L527.73,223.06 L528.01,223.05 L528.28,223.04 L528.56,223.03 L528.83,223.02 L529.11,223.01 L529.38,223.01 L529.66,223.00 L529.93,222.99 L530.21,222.98 L530.48,222.97 L530.76,222.96 L531.03,222.96 L531.31,222.95 L531.58,222.94 L531.86,222.93 L532.13,222.92 L532.41,222.92 L532.68,222.91 L532.96,222.90 L533.23,222.89 L533.51,222.89 L533.78,222.88 L534.05,222.87 L534.33,222.86 L534.60,222.86 L534.88,222.85 L535.15,222.84 L535.43,222.83 L535.70,222.83 L535.98,222.82 L536.25,222.81 L536.53,222.80 L536.80,222.80 L537.08,222.79 L537.35,222.78 L537.63,222.78 L537.90,222.77 L538.18,222.76 L538.45,222.75 L538.73,222.75 L539.00,222.74 L539.28,222.73 L539.55,222.72 L539.83,222.72 L540.10,222.71 L540.38,222.70 L540.65,222.70 L540.93,222.69 L541.20,222.68 L541.48,222.68 L541.75,222.67 L542.03,222.66 L542.30,222.65 L542.58,222.65 L542.85,222.64 L543.13,222.63 L543.40,222.63 L543.68,222.62 L543.95,222.61 L544.23,222.61 L544.50,222.60" fill="none" stroke="#f02828" stroke-width="1.7" stroke-linejoin="round" stroke-linecap="round" />
</svg></body></html>
